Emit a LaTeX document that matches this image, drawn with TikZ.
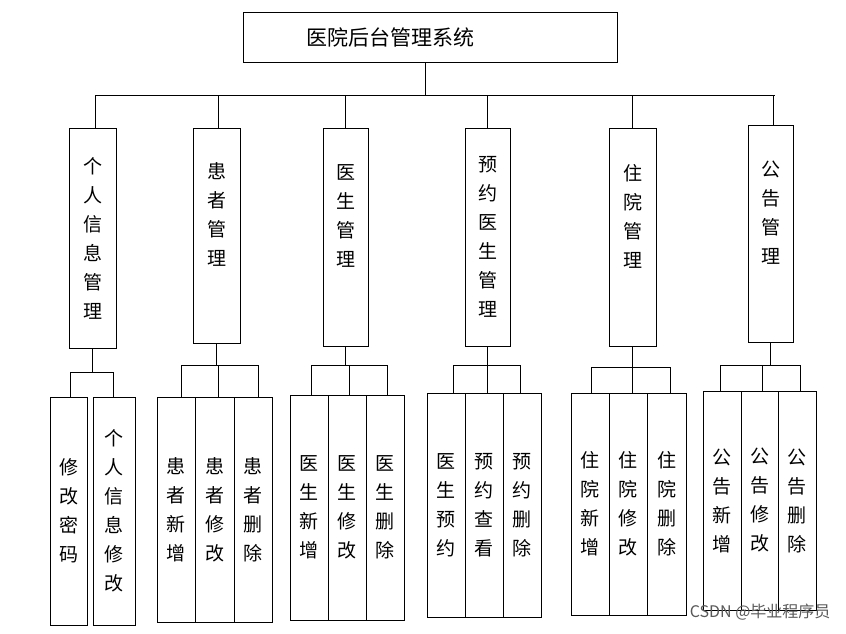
\documentclass[tikz,border=0pt]{standalone}
\usepackage{fontspec}
\setmainfont{Noto Sans CJK SC}
\begin{document}
\begin{tikzpicture}[x=1pt,y=-1pt,
  bx/.style={draw,line width=0.8pt,inner sep=0pt,align=center,font=\fontsize{19}{29}\selectfont},
  ln/.style={line width=0.8pt}]
\useasboundingbox[fill=white] (0,0) rectangle (846,633);
\node[bx,minimum width=374,minimum height=50,font=\fontsize{21}{29}\selectfont] (top) at (430,37) {\hspace*{-80pt}医院后台管理系统};
% level 2
\def\L#1#2#3#4#5{\node[bx,minimum width=#3,minimum height=#4] (#1) at (#2) {#5};}
\L{a}{92.5,238}{47}{220}{个\\人\\信\\息\\管\\理}
\L{b}{216.5,235.5}{47}{215}{患\\者\\管\\理\\[14pt]}
\L{c}{345.5,237}{45}{218}{医\\生\\管\\理\\[14pt]}
\L{d}{487.5,237}{45}{218}{预\\约\\医\\生\\管\\理}
\L{e}{632.5,237}{47}{218}{住\\院\\管\\理\\[14pt]}
\L{f}{770.5,233.5}{45}{217}{公\\告\\管\\理\\[14pt]}
\draw[ln] (425,0|-top.south) -- (425,95);
\draw[ln] (95,95) -- (775,95);
\foreach \n/\x in {a/95,b/218,c/345,d/487,e/632,f/773}{\draw[ln] (\x,95) -- (\x,0|-\n.north);}
% level 3
\L{a1}{68.5,511}{37}{228}{修\\改\\密\\码}
\L{a2}{114,511}{42}{228}{个\\人\\信\\息\\修\\改}
\L{b1}{176,509.5}{38}{225}{患\\者\\新\\增}
\L{b2}{214.5,509.5}{39}{225}{患\\者\\修\\改}
\L{b3}{253,509.5}{38}{225}{患\\者\\删\\除}
\L{c1}{309,507.5}{38}{225}{医\\生\\新\\增}
\L{c2}{347,507.5}{38}{225}{医\\生\\修\\改}
\L{c3}{385,507.5}{38}{225}{医\\生\\删\\除}
\L{d1}{446,505}{38}{224}{医\\生\\预\\约}
\L{d2}{484,505}{38}{224}{预\\约\\查\\看}
\L{d3}{522,505}{38}{224}{预\\约\\删\\除}
\L{e1}{590,504}{38}{222}{住\\院\\新\\增}
\L{e2}{628,504}{38}{222}{住\\院\\修\\改}
\L{e3}{666.5,504}{39}{222}{住\\院\\删\\除}
\L{f1}{722,500.5}{38}{219}{公\\告\\新\\增}
\L{f2}{759.5,500.5}{37}{219}{公\\告\\修\\改}
\L{f3}{797,500.5}{38}{219}{公\\告\\删\\除}
\draw[ln] (a.south) -- (92.5,372); \draw[ln] (70,372) -- (113,372);
\draw[ln] (70,372) -- (70,0|-a1.north); \draw[ln] (113,372) -- (113,0|-a2.north);
\draw[ln] (b.south) -- (216.5,365); \draw[ln] (181,365) -- (258,365);
\foreach \x in {181,218,258}\draw[ln] (\x,365) -- (\x,397);
\draw[ln] (c.south) -- (345.5,365); \draw[ln] (311,365) -- (387,365);
\foreach \x in {311,349,387}\draw[ln] (\x,365) -- (\x,395);
\draw[ln] (d.south) -- (487.5,365); \draw[ln] (453,365) -- (520,365);
\foreach \x in {453,487,520}\draw[ln] (\x,365) -- (\x,393);
\draw[ln] (e.south) -- (632.5,367); \draw[ln] (591,367) -- (670,367);
\foreach \x in {591,632,670}\draw[ln] (\x,367) -- (\x,393);
\draw[ln] (f.south) -- (770.5,365); \draw[ln] (720,365) -- (800,365);
\foreach \x in {720,762,800}\draw[ln] (\x,365) -- (\x,391);
\node[text=gray!70!black,font=\fontsize{16}{16}\selectfont,anchor=east] (wm) at (834,612) {CSDN @毕业程序员};
\end{tikzpicture}
\end{document}
